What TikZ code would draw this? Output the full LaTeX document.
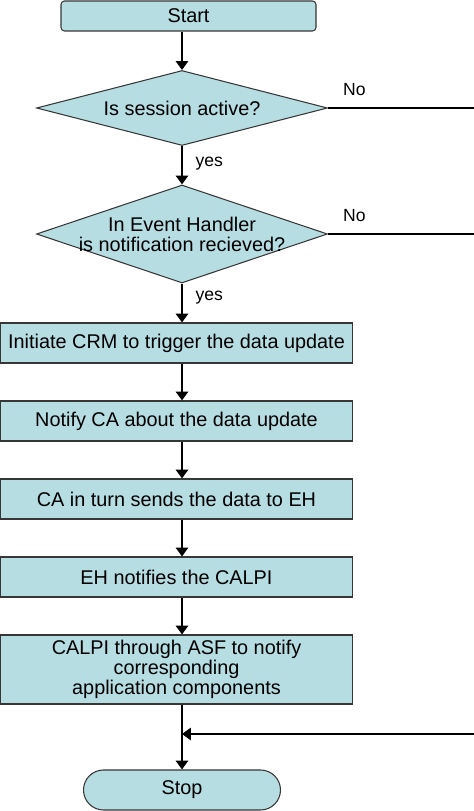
\documentclass[tikz,border=0pt]{standalone}
\usepackage{fontspec}
\setsansfont{Liberation Sans}
\usetikzlibrary{
  arrows.meta,
  shapes.geometric,
  calc
}
\definecolor{flow}{RGB}{182,221,226}
\definecolor{edge}{RGB}{55,55,55}

\begin{document}
\begin{tikzpicture}[
  every node/.style={font=\sffamily\fontsize{11.3}{11.4}\selectfont},
  stepbox/.style={draw=edge, fill=flow, line width=0.6pt, minimum width=7.04cm,
                  minimum height=0.8cm, align=center, inner sep=1pt},
  decision/.style={diamond, draw=edge, fill=flow, line width=0.6pt, aspect=3,
                   minimum width=5.82cm, minimum height=1.5cm, inner sep=0pt, align=center},
  terminal/.style={draw=edge, fill=flow, line width=0.6pt, align=center},
  tag/.style={font=\sffamily\fontsize{10}{11}\selectfont},
  flowline/.style={line width=0.9pt, -{Triangle[width=7pt, length=5pt]}},
  >=Stealth
]
\useasboundingbox (0,0) rectangle (9.48,16.22);

\node[terminal, rounded corners=2pt, minimum width=5.1cm, minimum height=0.6cm] (start) at (3.77, 15.9) {Start};
\node[decision] (active) at (3.64, 14.06) {Is session active?};
\node[decision, minimum height=1.96cm, inner xsep=-8pt, inner ysep=-4pt] (notice) at (3.64, 11.54)
  {In Event Handler\\is notification recieved?};

% Steps
\node[stepbox] (crm)    at (3.53, 9.36) {Initiate CRM to trigger the data update};
\node[stepbox] (notify) at (3.53, 7.80) {Notify CA about the data update};
\node[stepbox] (sends)  at (3.53, 6.24) {CA in turn sends the data to EH};
\node[stepbox] (calpi)  at (3.53, 4.68) {EH notifies the CALPI};
\node[stepbox, minimum height=1.38cm] (asf) at (3.53, 2.83)
  {CALPI through ASF to notify\\corresponding\\application components};
\node[terminal, rounded corners=0.4cm, minimum width=3.94cm, minimum height=0.8cm] (stop) at (3.64, 0.42) {Stop};

\coordinate (outa) at (9.48, 14.06);
\coordinate (outb) at (9.48, 11.54);
\coordinate (back) at (9.48, 1.54);

\draw[flowline] (start.south -| active.north) -- (active.north);
\draw[flowline] (active.south) -- (notice.north)
  node[tag, pos=0.45, right=4pt] {yes};
\draw[flowline] (notice.south) -- (notice.south |- crm.north)
  node[tag, pos=0.37, right=4pt] {yes};

\foreach \a/\b in {crm/notify, notify/sends, sends/calpi, calpi/asf, asf/stop}
  \draw[flowline] (\a.south -| active.south) -- (\b.north -| active.south);

% No branches
\draw[line width=0.9pt] (active.east) -- (outa)
  node[tag, pos=0.18, above=3pt] {No};
\draw[line width=0.9pt] (notice.east) -- (outb)
  node[tag, pos=0.18, above=3pt] {No};
\draw[flowline] (back) -- (back -| active.south);

\end{tikzpicture}
\end{document}
